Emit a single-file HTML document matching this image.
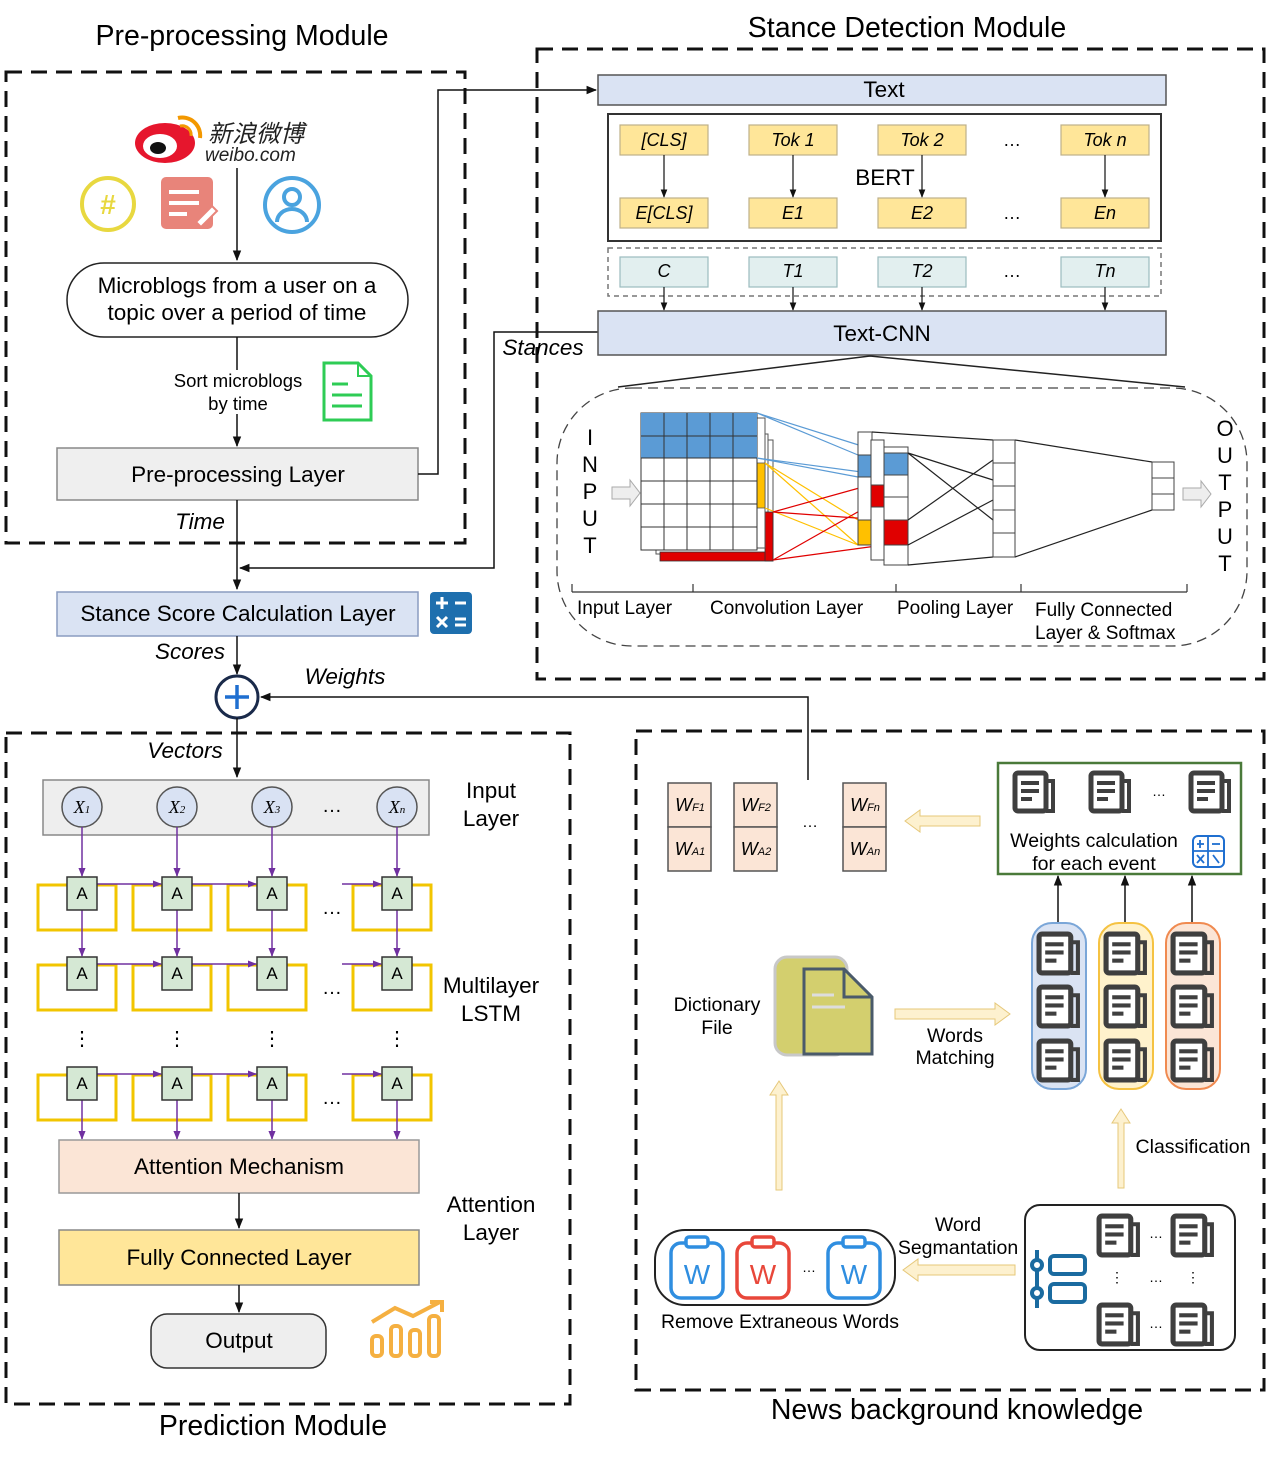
<!DOCTYPE html>
<html><head><meta charset="utf-8"><style>
html,body{margin:0;padding:0;background:#fff}
svg{display:block;font-family:"Liberation Sans","Noto Sans CJK SC",sans-serif}
</style></head><body>
<svg width="1274" height="1463" viewBox="0 0 1274 1463" xmlns="http://www.w3.org/2000/svg">
<defs>
<marker id="ar" viewBox="0 0 10 10" refX="9" refY="5" markerWidth="7" markerHeight="7" orient="auto"><path d="M0,1 L10,5 L0,9z" fill="#111"/></marker>
<marker id="ap" viewBox="0 0 10 10" refX="9" refY="5" markerWidth="6" markerHeight="6" orient="auto"><path d="M0,1 L10,5 L0,9z" fill="#7030a0"/></marker>
<symbol id="news" viewBox="0 0 45 45"><rect x="3" y="3" width="31" height="38" rx="3" fill="#fff" stroke="#3f3f3f" stroke-width="5"/><path d="M34 11h7v30h-7" fill="none" stroke="#3f3f3f" stroke-width="4"/><rect x="9" y="11" width="18" height="4" fill="#3f3f3f"/><rect x="9" y="19" width="18" height="4" fill="#3f3f3f"/><rect x="9" y="27" width="11" height="4" fill="#3f3f3f"/></symbol>
</defs>

<!-- titles -->
<g font-size="28.5" text-anchor="middle" fill="#000">
<text x="242" y="45">Pre-processing Module</text>
<text x="907" y="37">Stance Detection Module</text>
<text x="273" y="1435">Prediction Module</text>
<text x="957" y="1419">News background knowledge</text>
</g>

<g fill="none" stroke="#111" stroke-width="3" stroke-dasharray="16 9">
<rect x="6" y="72" width="459" height="471"/>
<rect x="537" y="49" width="727" height="630"/>
<rect x="6" y="733" width="564" height="671"/>
<rect x="636" y="731" width="628" height="659"/>
</g>

<!-- ===== Pre-processing ===== -->
<ellipse cx="165" cy="143" rx="30" ry="20" fill="#e6162d"/>
<ellipse cx="160" cy="146" rx="17" ry="12" fill="#fff"/>
<ellipse cx="158" cy="148" rx="8" ry="6" fill="#111"/>
<path d="M178 118 a18 18 0 0 1 22 20" fill="none" stroke="#f39800" stroke-width="4"/>
<path d="M180 126 a9 9 0 0 1 11 10" fill="none" stroke="#f39800" stroke-width="3"/>
<text x="208" y="142" font-size="24" font-style="italic" fill="#222">新浪微博</text>
<text x="205" y="161" font-size="19" font-style="italic" fill="#222">weibo.com</text>
<circle cx="108" cy="204" r="26" fill="none" stroke="#e8d840" stroke-width="4"/>
<text x="108" y="214" font-size="28" text-anchor="middle" fill="#e8d840" font-weight="bold">#</text>
<rect x="161" y="177" width="52" height="52" rx="5" fill="#e8847a"/>
<rect x="169" y="190" width="30" height="4" fill="#fff"/><rect x="169" y="201" width="30" height="4" fill="#fff"/><rect x="169" y="212" width="18" height="4" fill="#fff"/>
<path d="M196 222 l16 -16 l5 5 l-16 16z" fill="#fff" stroke="#e8847a" stroke-width="2"/>
<circle cx="292" cy="205" r="27" fill="none" stroke="#4aa3df" stroke-width="4"/>
<circle cx="292" cy="197" r="8" fill="none" stroke="#4aa3df" stroke-width="4"/>
<path d="M277 222 a15 13 0 0 1 30 0" fill="none" stroke="#4aa3df" stroke-width="4"/>

<line x1="237" y1="168" x2="237" y2="260" stroke="#111" stroke-width="1.5" marker-end="url(#ar)"/>
<rect x="67" y="263" width="341" height="74" rx="37" fill="#fff" stroke="#222" stroke-width="1.5"/>
<text x="237" y="293" font-size="22.5" text-anchor="middle">Microblogs from a user on a</text>
<text x="237" y="320" font-size="22.5" text-anchor="middle">topic over a period of time</text>
<line x1="237" y1="337" x2="237" y2="446" stroke="#111" stroke-width="1.5" marker-end="url(#ar)"/>
<rect x="165" y="370" width="145" height="44" fill="#fff"/>
<text x="238" y="387" font-size="18.5" text-anchor="middle">Sort microblogs</text>
<text x="238" y="410" font-size="18.5" text-anchor="middle">by time</text>
<path d="M324 363 h34 l13 13 v44 h-47z" fill="#fff" stroke="#2ecc55" stroke-width="3"/>
<path d="M358 363 v13 h13" fill="none" stroke="#2ecc55" stroke-width="2"/>
<line x1="332" y1="384" x2="348" y2="384" stroke="#2ecc55" stroke-width="3"/>
<line x1="332" y1="395" x2="362" y2="395" stroke="#2ecc55" stroke-width="3"/>
<line x1="332" y1="406" x2="362" y2="406" stroke="#2ecc55" stroke-width="3"/>

<rect x="57" y="448" width="361" height="52" fill="#efefef" stroke="#888" stroke-width="1.5"/>
<text x="238" y="482" font-size="22.5" text-anchor="middle">Pre-processing Layer</text>
<polyline points="418,474 438,474 438,90 596,90" fill="none" stroke="#111" stroke-width="1.5" marker-end="url(#ar)"/>
<text x="200" y="529" font-size="22.5" font-style="italic" text-anchor="middle">Time</text>
<line x1="237" y1="500" x2="237" y2="589" stroke="#111" stroke-width="1.5" marker-end="url(#ar)"/>
<polyline points="598,332 494,332 494,568 240,568" fill="none" stroke="#111" stroke-width="1.5" marker-end="url(#ar)"/>
<text x="543" y="355" font-size="22.5" font-style="italic" text-anchor="middle">Stances</text>

<rect x="57" y="592" width="361" height="44" fill="#dae3f3" stroke="#8a9cc0" stroke-width="1.5"/>
<text x="238" y="621" font-size="22.5" text-anchor="middle">Stance Score Calculation Layer</text>
<rect x="430" y="592" width="42" height="42" rx="4" fill="#1e6fae"/>
<g stroke="#fff" stroke-width="3"><line x1="436" y1="603" x2="448" y2="603"/><line x1="442" y1="597" x2="442" y2="609"/><line x1="455" y1="603" x2="466" y2="603"/><line x1="437" y1="617" x2="447" y2="627"/><line x1="447" y1="617" x2="437" y2="627"/><line x1="455" y1="619" x2="466" y2="619"/><line x1="455" y1="625" x2="466" y2="625"/></g>
<text x="190" y="659" font-size="22.5" font-style="italic" text-anchor="middle">Scores</text>
<line x1="237" y1="636" x2="237" y2="674" stroke="#111" stroke-width="1.5" marker-end="url(#ar)"/>
<circle cx="237" cy="697" r="21" fill="#fff" stroke="#1a2a4a" stroke-width="3"/>
<line x1="225" y1="697" x2="249" y2="697" stroke="#1f6fd0" stroke-width="3.5"/><line x1="237" y1="685" x2="237" y2="709" stroke="#1f6fd0" stroke-width="3.5"/>
<text x="345" y="684" font-size="22.5" font-style="italic" text-anchor="middle">Weights</text>
<polyline points="808,780 808,697 261,697" fill="none" stroke="#111" stroke-width="1.5" marker-end="url(#ar)"/>
<text x="185" y="758" font-size="22.5" font-style="italic" text-anchor="middle">Vectors</text>
<line x1="237" y1="718" x2="237" y2="777" stroke="#111" stroke-width="1.5" marker-end="url(#ar)"/>

<!-- ===== Prediction ===== -->
<rect x="43" y="780" width="386" height="55" fill="#eeeeee" stroke="#888" stroke-width="1.5"/>
<g fill="#d9e2f3" stroke="#555" stroke-width="1.5"><circle cx="82" cy="807" r="20"/><circle cx="177" cy="807" r="20"/><circle cx="272" cy="807" r="20"/><circle cx="397" cy="807" r="20"/></g>
<g font-size="18" font-style="italic" font-family="Liberation Serif, serif" text-anchor="middle">
<text x="82" y="813">X<tspan font-size="11">1</tspan></text><text x="177" y="813">X<tspan font-size="11">2</tspan></text><text x="272" y="813">X<tspan font-size="11">3</tspan></text><text x="397" y="813">X<tspan font-size="11">n</tspan></text></g>
<text x="332" y="812" font-size="20" text-anchor="middle">…</text>
<g font-size="22.5" text-anchor="middle">
<text x="491" y="798">Input</text><text x="491" y="826">Layer</text>
<text x="491" y="993">Multilayer</text><text x="491" y="1021">LSTM</text>
<text x="491" y="1212">Attention</text><text x="491" y="1240">Layer</text>
</g>

<g fill="none" stroke="#f2c500" stroke-width="3">
<rect x="38" y="885" width="78" height="45"/><rect x="133" y="885" width="78" height="45"/><rect x="228" y="885" width="78" height="45"/><rect x="353" y="885" width="78" height="45"/>
<rect x="38" y="965" width="78" height="45"/><rect x="133" y="965" width="78" height="45"/><rect x="228" y="965" width="78" height="45"/><rect x="353" y="965" width="78" height="45"/>
<rect x="38" y="1075" width="78" height="45"/><rect x="133" y="1075" width="78" height="45"/><rect x="228" y="1075" width="78" height="45"/><rect x="353" y="1075" width="78" height="45"/>
</g>
<g stroke="#7030a0" stroke-width="1.5" marker-end="url(#ap)">
<line x1="82" y1="827" x2="82" y2="876"/><line x1="177" y1="827" x2="177" y2="876"/><line x1="272" y1="827" x2="272" y2="876"/><line x1="397" y1="827" x2="397" y2="876"/>
<line x1="82" y1="910" x2="82" y2="956"/><line x1="177" y1="910" x2="177" y2="956"/><line x1="272" y1="910" x2="272" y2="956"/><line x1="397" y1="910" x2="397" y2="956"/>
<line x1="82" y1="1100" x2="82" y2="1139"/><line x1="177" y1="1100" x2="177" y2="1139"/><line x1="272" y1="1100" x2="272" y2="1139"/><line x1="397" y1="1100" x2="397" y2="1139"/>
<line x1="97" y1="884" x2="161" y2="884"/><line x1="192" y1="884" x2="256" y2="884"/><line x1="342" y1="884" x2="381" y2="884"/>
<line x1="97" y1="964" x2="161" y2="964"/><line x1="192" y1="964" x2="256" y2="964"/><line x1="342" y1="964" x2="381" y2="964"/>
<line x1="97" y1="1074" x2="161" y2="1074"/><line x1="192" y1="1074" x2="256" y2="1074"/><line x1="342" y1="1074" x2="381" y2="1074"/>
</g>
<g fill="#d5e8d4" stroke="#333" stroke-width="1.5">
<rect x="67" y="877" width="30" height="33"/><rect x="162" y="877" width="30" height="33"/><rect x="257" y="877" width="30" height="33"/><rect x="382" y="877" width="30" height="33"/>
<rect x="67" y="957" width="30" height="33"/><rect x="162" y="957" width="30" height="33"/><rect x="257" y="957" width="30" height="33"/><rect x="382" y="957" width="30" height="33"/>
<rect x="67" y="1067" width="30" height="33"/><rect x="162" y="1067" width="30" height="33"/><rect x="257" y="1067" width="30" height="33"/><rect x="382" y="1067" width="30" height="33"/>
</g>
<g font-size="17" text-anchor="middle">
<text x="82" y="899">A</text><text x="177" y="899">A</text><text x="272" y="899">A</text><text x="397" y="899">A</text>
<text x="82" y="979">A</text><text x="177" y="979">A</text><text x="272" y="979">A</text><text x="397" y="979">A</text>
<text x="82" y="1089">A</text><text x="177" y="1089">A</text><text x="272" y="1089">A</text><text x="397" y="1089">A</text>
<text x="332" y="914" font-size="20">…</text><text x="332" y="994" font-size="20">…</text><text x="332" y="1104" font-size="20">…</text>
<text x="82" y="1045" font-size="20">⋮</text><text x="177" y="1045" font-size="20">⋮</text><text x="272" y="1045" font-size="20">⋮</text><text x="397" y="1045" font-size="20">⋮</text>
</g>
<rect x="59" y="1140" width="360" height="53" fill="#fbe5d6" stroke="#999" stroke-width="1.5"/>
<text x="239" y="1174" font-size="22.5" text-anchor="middle">Attention Mechanism</text>
<line x1="239" y1="1193" x2="239" y2="1228" stroke="#111" stroke-width="1.5" marker-end="url(#ar)"/>
<rect x="59" y="1230" width="360" height="55" fill="#ffe699" stroke="#888" stroke-width="1.5"/>
<text x="239" y="1265" font-size="22.5" text-anchor="middle">Fully Connected Layer</text>
<line x1="239" y1="1285" x2="239" y2="1312" stroke="#111" stroke-width="1.5" marker-end="url(#ar)"/>
<rect x="151" y="1314" width="175" height="54" rx="16" fill="#eeeeee" stroke="#333" stroke-width="1.5"/>
<text x="239" y="1348" font-size="22.5" text-anchor="middle">Output</text>
<g fill="none" stroke="#f5b041" stroke-width="4">
<rect x="372" y="1336" width="10" height="20" rx="4"/><rect x="391" y="1326" width="10" height="30" rx="4"/><rect x="410" y="1330" width="10" height="26" rx="4"/><rect x="429" y="1316" width="10" height="40" rx="4"/>
<polyline points="372,1322 395,1308 413,1316 440,1302"/><polyline points="430,1302 442,1302 442,1312"/>
</g>

<!-- ===== Stance detection ===== -->
<rect x="598" y="75" width="568" height="30" fill="#dae3f3" stroke="#555" stroke-width="1.5"/>
<text x="884" y="97" font-size="22.5" text-anchor="middle">Text</text>
<rect x="608" y="114" width="553" height="127" fill="#fff" stroke="#333" stroke-width="2"/>
<g fill="#ffe699" stroke="#bdb08a" stroke-width="1.2">
<rect x="620" y="125" width="88" height="30"/><rect x="749" y="125" width="88" height="30"/><rect x="878" y="125" width="88" height="30"/><rect x="1061" y="125" width="88" height="30"/>
<rect x="620" y="198" width="88" height="30"/><rect x="749" y="198" width="88" height="30"/><rect x="878" y="198" width="88" height="30"/><rect x="1061" y="198" width="88" height="30"/>
</g>
<g font-size="18" font-style="italic" text-anchor="middle">
<text x="664" y="146">[CLS]</text><text x="793" y="146">Tok 1</text><text x="922" y="146">Tok 2</text><text x="1105" y="146">Tok n</text>
<text x="664" y="219">E[CLS]</text><text x="793" y="219">E1</text><text x="922" y="219">E2</text><text x="1105" y="219">En</text>
</g>
<text x="1012" y="146" font-size="18" text-anchor="middle">…</text><text x="1012" y="219" font-size="18" text-anchor="middle">…</text>
<text x="885" y="185" font-size="22.5" text-anchor="middle">BERT</text>
<g stroke="#111" stroke-width="1.2" marker-end="url(#ar)">
<line x1="664" y1="155" x2="664" y2="197"/><line x1="793" y1="155" x2="793" y2="197"/><line x1="922" y1="155" x2="922" y2="197"/><line x1="1105" y1="155" x2="1105" y2="197"/>
</g>
<rect x="608" y="248" width="553" height="48" fill="none" stroke="#777" stroke-width="1.5" stroke-dasharray="5 4"/>
<g fill="#e2efef" stroke="#9bbcbf" stroke-width="1.2">
<rect x="620" y="257" width="88" height="30"/><rect x="749" y="257" width="88" height="30"/><rect x="878" y="257" width="88" height="30"/><rect x="1061" y="257" width="88" height="30"/></g>
<g font-size="18" font-style="italic" text-anchor="middle">
<text x="664" y="277">C</text><text x="793" y="277">T1</text><text x="922" y="277">T2</text><text x="1105" y="277">Tn</text></g>
<text x="1012" y="277" font-size="18" text-anchor="middle">…</text>
<g stroke="#111" stroke-width="1.2" marker-end="url(#ar)">
<line x1="664" y1="287" x2="664" y2="310"/><line x1="793" y1="287" x2="793" y2="310"/><line x1="922" y1="287" x2="922" y2="310"/><line x1="1105" y1="287" x2="1105" y2="310"/>
</g>
<rect x="598" y="311" width="568" height="44" fill="#dae3f3" stroke="#555" stroke-width="1.5"/>
<text x="882" y="341" font-size="22.5" text-anchor="middle">Text-CNN</text>
<polyline points="618,387 870,356 1185,387" fill="none" stroke="#222" stroke-width="1.5"/>
<rect x="557" y="388" width="690" height="258" rx="75" fill="none" stroke="#444" stroke-width="1.3" stroke-dasharray="10 6"/>

<g font-size="22" text-anchor="middle">
<text x="590" y="445">I</text><text x="590" y="472">N</text><text x="590" y="499">P</text><text x="590" y="526">U</text><text x="590" y="553">T</text>
<text x="1225" y="436">O</text><text x="1225" y="463">U</text><text x="1225" y="490">T</text><text x="1225" y="517">P</text><text x="1225" y="544">U</text><text x="1225" y="571">T</text>
</g>
<path d="M612 487 h18 v-7 l10 13 l-10 13 v-7 h-18z" fill="#eee" stroke="#aaa"/>
<path d="M1183 488 h18 v-7 l10 13 l-10 13 v-7 h-18z" fill="#eee" stroke="#aaa"/>
<rect x="661" y="440" width="112" height="120" fill="#fff" stroke="#555"/>
<rect x="656" y="434" width="112" height="120" fill="#fff" stroke="#555"/>
<rect x="660" y="552" width="113" height="9" fill="#e00000" stroke="#333" stroke-width="0.8"/>
<rect x="765" y="512" width="8" height="49" fill="#e00000" stroke="#333" stroke-width="0.8"/>
<rect x="757" y="418" width="8" height="130" fill="#fff" stroke="#555"/>
<rect x="757" y="463" width="8" height="45" fill="#ffc000" stroke="#555" stroke-width="0.8"/>
<rect x="641" y="413" width="116" height="137" fill="#fff" stroke="#333"/>
<rect x="641" y="413" width="116" height="45" fill="#5b9bd5"/>
<g stroke="#333" stroke-width="1">
<line x1="664" y1="413" x2="664" y2="550"/><line x1="687" y1="413" x2="687" y2="550"/><line x1="710" y1="413" x2="710" y2="550"/><line x1="733" y1="413" x2="733" y2="550"/>
<line x1="641" y1="436" x2="757" y2="436"/><line x1="641" y1="458" x2="757" y2="458"/><line x1="641" y1="481" x2="757" y2="481"/><line x1="641" y1="504" x2="757" y2="504"/><line x1="641" y1="527" x2="757" y2="527"/>
</g>
<g fill="none" stroke-width="1.2">
<path d="M757 413 L858 455 M757 413 L884 453 M757 458 L858 477 M757 458 L884 475" stroke="#5b9bd5"/>
<path d="M765 463 L858 545 M765 508 L858 545 M765 463 L858 520" stroke="#ffc000"/>
<path d="M773 512 L870 485 M773 560 L870 505 M773 512 L884 520 M773 560 L884 545" stroke="#e00000"/>
</g>
<rect x="858" y="432" width="14" height="113" fill="#fff" stroke="#444"/>
<rect x="858" y="455" width="14" height="22" fill="#5b9bd5" stroke="#444"/>
<rect x="858" y="520" width="14" height="25" fill="#ffc000" stroke="#444"/>
<rect x="871" y="440" width="13" height="120" fill="#fff" stroke="#444"/>
<rect x="871" y="485" width="13" height="22" fill="#e00000" stroke="#444"/>
<rect x="884" y="447" width="24" height="118" fill="#fff" stroke="#444"/>
<g stroke="#444"><line x1="884" y1="475" x2="908" y2="475"/><line x1="884" y1="497" x2="908" y2="497"/><line x1="884" y1="520" x2="908" y2="520"/><line x1="884" y1="545" x2="908" y2="545"/></g>
<rect x="884" y="453" width="24" height="22" fill="#5b9bd5" stroke="#444"/>
<rect x="884" y="520" width="24" height="25" fill="#e00000" stroke="#444"/>
<g fill="none" stroke="#222" stroke-width="1.2">
<path d="M872 432 L993 440 M908 453 L993 480 M908 453 L993 520 M908 520 L993 460 M908 545 L993 500 M908 565 L993 557"/>
<path d="M1015 440 L1152 462 M1015 557 L1152 510"/>
</g>
<rect x="993" y="440" width="22" height="117" fill="#fff" stroke="#444"/>
<g stroke="#444"><line x1="993" y1="463" x2="1015" y2="463"/><line x1="993" y1="486" x2="1015" y2="486"/><line x1="993" y1="510" x2="1015" y2="510"/><line x1="993" y1="533" x2="1015" y2="533"/></g>
<rect x="1152" y="462" width="22" height="48" fill="#fff" stroke="#444"/>
<g stroke="#444"><line x1="1152" y1="478" x2="1174" y2="478"/><line x1="1152" y1="494" x2="1174" y2="494"/></g>
<g stroke="#333" stroke-width="1.2" fill="none">
<line x1="572" y1="592" x2="1187" y2="592"/>
<line x1="572" y1="584" x2="572" y2="592"/><line x1="693" y1="584" x2="693" y2="592"/><line x1="896" y1="584" x2="896" y2="592"/><line x1="1021" y1="584" x2="1021" y2="592"/><line x1="1187" y1="584" x2="1187" y2="592"/>
</g>
<g font-size="19">
<text x="577" y="614">Input Layer</text><text x="710" y="614">Convolution Layer</text><text x="897" y="614">Pooling Layer</text>
<text x="1035" y="616">Fully Connected</text><text x="1035" y="639">Layer &amp; Softmax</text>
</g>

<!-- ===== News ===== -->
<g fill="#fbe5d6" stroke="#555" stroke-width="1.5">
<rect x="668" y="783" width="43" height="44"/><rect x="668" y="827" width="43" height="44"/>
<rect x="734" y="783" width="43" height="44"/><rect x="734" y="827" width="43" height="44"/>
<rect x="843" y="783" width="43" height="44"/><rect x="843" y="827" width="43" height="44"/>
</g>
<g font-size="18" font-style="italic" text-anchor="middle">
<text x="690" y="811">W<tspan font-size="11">F1</tspan></text><text x="690" y="855">W<tspan font-size="11">A1</tspan></text>
<text x="756" y="811">W<tspan font-size="11">F2</tspan></text><text x="756" y="855">W<tspan font-size="11">A2</tspan></text>
<text x="865" y="811">W<tspan font-size="11">Fn</tspan></text><text x="865" y="855">W<tspan font-size="11">An</tspan></text>
</g>
<text x="810" y="827" font-size="16" text-anchor="middle">…</text>
<path d="M980 816 h-60 v-6 l-15 11 l15 11 v-6 h60z" fill="#fdf1cf" stroke="#e6c87a"/>
<rect x="998" y="763" width="243" height="111" fill="#fff" stroke="#4a7a3a" stroke-width="2.5"/>
<use href="#news" x="1012" y="770" width="45" height="45"/><use href="#news" x="1088" y="770" width="45" height="45"/><use href="#news" x="1188" y="770" width="45" height="45"/>
<text x="1159" y="796" font-size="14" text-anchor="middle">…</text>
<text x="1094" y="847" font-size="19.5" text-anchor="middle">Weights calculation</text>
<text x="1094" y="870" font-size="19.5" text-anchor="middle">for each event</text>
<rect x="1193" y="836" width="31" height="31" rx="5" fill="#fff" stroke="#1f6fd0" stroke-width="2"/>
<g stroke="#1f6fd0" stroke-width="1.8"><line x1="1208" y1="836" x2="1208" y2="867"/><line x1="1193" y1="851" x2="1224" y2="851"/><line x1="1197" y1="844" x2="1204" y2="844"/><line x1="1200" y1="840" x2="1200" y2="848"/><line x1="1212" y1="844" x2="1220" y2="844"/><line x1="1197" y1="855" x2="1204" y2="863"/><line x1="1204" y1="855" x2="1197" y2="863"/><line x1="1213" y1="855" x2="1219" y2="863"/></g>
<g stroke="#111" stroke-width="1.5" marker-end="url(#ar)">
<line x1="1058" y1="922" x2="1058" y2="876"/><line x1="1125" y1="922" x2="1125" y2="876"/><line x1="1192" y1="922" x2="1192" y2="876"/>
</g>
<rect x="1032" y="923" width="54" height="166" rx="20" fill="#dae3f3" stroke="#7aa6d8" stroke-width="2"/>
<rect x="1099" y="923" width="54" height="166" rx="20" fill="#fff2cc" stroke="#f5c242" stroke-width="2"/>
<rect x="1166" y="923" width="54" height="166" rx="20" fill="#fbe5d6" stroke="#f08a50" stroke-width="2"/>
<use href="#news" x="1036" y="931" width="46" height="46"/><use href="#news" x="1036" y="984" width="46" height="46"/><use href="#news" x="1036" y="1038" width="46" height="46"/>
<use href="#news" x="1103" y="931" width="46" height="46"/><use href="#news" x="1103" y="984" width="46" height="46"/><use href="#news" x="1103" y="1038" width="46" height="46"/>
<use href="#news" x="1170" y="931" width="46" height="46"/><use href="#news" x="1170" y="984" width="46" height="46"/><use href="#news" x="1170" y="1038" width="46" height="46"/>

<rect x="775" y="957" width="72" height="98" rx="12" fill="#d3cf6e" stroke="#c8c8c8" stroke-width="3"/>
<path d="M804 969 h40 l28 28 v57 h-68z" fill="#d3cf6e" stroke="#4a5a6a" stroke-width="3"/>
<path d="M844 969 v28 h28" fill="none" stroke="#4a5a6a" stroke-width="3"/>
<line x1="812" y1="995" x2="834" y2="995" stroke="#ddd" stroke-width="3"/><line x1="812" y1="1007" x2="845" y2="1007" stroke="#ddd" stroke-width="3"/>
<text x="717" y="1011" font-size="19.5" text-anchor="middle">Dictionary</text><text x="717" y="1034" font-size="19.5" text-anchor="middle">File</text>
<path d="M895 1009 h100 v-6 l15 11 l-15 11 v-6 h-100z" fill="#fdf1cf" stroke="#e6c87a"/>
<text x="955" y="1042" font-size="19.5" text-anchor="middle">Words</text><text x="955" y="1064" font-size="19.5" text-anchor="middle">Matching</text>
<path d="M776 1190 v-95 h-6 l9 -14 l9 14 h-6 v95z" fill="#fdf1cf" stroke="#e6c87a"/>
<path d="M1118 1188 v-65 h-6 l9 -14 l9 14 h-6 v65z" fill="#fdf1cf" stroke="#e6c87a"/>
<text x="1193" y="1153" font-size="19.5" text-anchor="middle">Classification</text>

<rect x="1025" y="1205" width="210" height="145" rx="15" fill="#fff" stroke="#222" stroke-width="2"/>
<use href="#news" x="1096" y="1213" width="46" height="46"/><use href="#news" x="1170" y="1213" width="46" height="46"/>
<use href="#news" x="1096" y="1302" width="46" height="46"/><use href="#news" x="1170" y="1302" width="46" height="46"/>
<g font-size="14" text-anchor="middle"><text x="1156" y="1238">…</text><text x="1156" y="1328">…</text><text x="1156" y="1282">…</text><text x="1117" y="1282">⋮</text><text x="1193" y="1282">⋮</text></g>
<g fill="none" stroke="#1a6ba0" stroke-width="4">
<line x1="1037" y1="1250" x2="1037" y2="1308"/><circle cx="1037" cy="1265" r="5" fill="#fff"/><circle cx="1037" cy="1293" r="5" fill="#fff"/>
<rect x="1050" y="1256" width="35" height="18" rx="4"/><rect x="1050" y="1284" width="35" height="18" rx="4"/>
</g>
<path d="M1015 1265 h-97 v-6 l-15 11 l15 11 v-6 h97z" fill="#fdf1cf" stroke="#e6c87a"/>
<text x="958" y="1231" font-size="19.5" text-anchor="middle">Word</text><text x="958" y="1254" font-size="19.5" text-anchor="middle">Segmantation</text>
<rect x="655" y="1230" width="240" height="75" rx="30" fill="#fff" stroke="#222" stroke-width="2"/>
<g fill="none" stroke-width="3.5">
<rect x="671" y="1243" width="52" height="55" rx="10" stroke="#2f8ee0"/><rect x="686" y="1237" width="22" height="10" rx="3" stroke="#2f8ee0" fill="#fff"/>
<rect x="737" y="1243" width="52" height="55" rx="10" stroke="#e8473a"/><rect x="752" y="1237" width="22" height="10" rx="3" stroke="#e8473a" fill="#fff"/>
<rect x="828" y="1243" width="52" height="55" rx="10" stroke="#2f8ee0"/><rect x="843" y="1237" width="22" height="10" rx="3" stroke="#2f8ee0" fill="#fff"/>
</g>
<g font-size="28" text-anchor="middle"><text x="697" y="1284" fill="#2f8ee0">W</text><text x="763" y="1284" fill="#e8473a">W</text><text x="854" y="1284" fill="#2f8ee0">W</text></g>
<text x="809" y="1272" font-size="14" text-anchor="middle">…</text>
<text x="780" y="1328" font-size="19.5" text-anchor="middle">Remove Extraneous Words</text>
</svg>
</body></html>
